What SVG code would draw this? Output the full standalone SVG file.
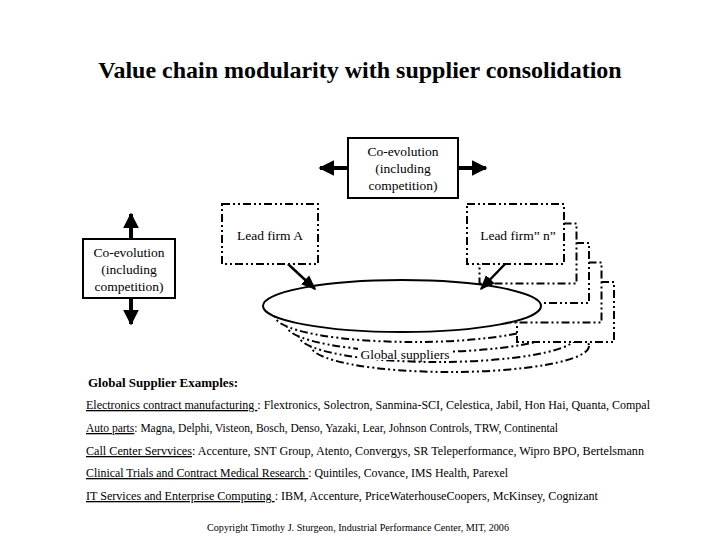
<svg xmlns="http://www.w3.org/2000/svg" width="720" height="540" viewBox="0 0 720 540" font-family="'Liberation Serif', 'Times New Roman', serif">
<style>
text{font-family:'Liberation Serif','Times New Roman',serif;fill:#000}
.b{font-size:13.5px}
.box{fill:#fff;stroke:#000;stroke-width:2}
.dd{fill:#fff;stroke:#000;stroke-width:2;stroke-dasharray:8 3 2 3 2 3}
.de{fill:#fff;stroke:#000;stroke-width:2;stroke-dasharray:8 3 2 3 2 3}
.l{font-size:13px}
.u{text-decoration:underline}
</style>
<defs>
<marker id="ah" viewBox="0 0 10 10" refX="9" refY="5" markerWidth="4" markerHeight="4" orient="auto"><path d="M0,0L10,5L0,10z"/></marker>
<marker id="as" viewBox="0 0 10 10" refX="9" refY="5" markerWidth="6" markerHeight="6" orient="auto"><path d="M0,1L10,5L0,9z"/></marker>
</defs>
<text x="360" y="78" font-size="24" font-weight="bold" text-anchor="middle">Value chain modularity with supplier consolidation</text>
<g id="connectors" stroke="#000">
<line x1="348" y1="168" x2="320" y2="168" stroke-width="4" marker-end="url(#ah)"/>
<line x1="458" y1="168" x2="486" y2="168" stroke-width="4" marker-end="url(#ah)"/>
<line x1="131" y1="239" x2="131" y2="214" stroke-width="4" marker-end="url(#ah)"/>
<line x1="131" y1="298" x2="131" y2="324" stroke-width="4" marker-end="url(#ah)"/>
</g>
<g id="suppliers-back">
<ellipse class="de" cx="450" cy="346" rx="139" ry="26"/>
<ellipse class="de" cx="438" cy="336" rx="139" ry="26"/>
<ellipse class="de" cx="426" cy="326" rx="139" ry="26"/>
<ellipse class="de" cx="414" cy="316" rx="139" ry="26"/>
</g>
<g id="leadn-stack">
<rect class="dd" x="517" y="282" width="97" height="60"/>
<rect class="dd" x="504.5" y="262.5" width="97" height="60"/>
<rect class="dd" x="492" y="243" width="97" height="60"/>
<rect class="dd" x="479.5" y="223.5" width="97" height="60"/>
</g>
<g id="coev-top"><rect class="box" x="348" y="138" width="110" height="60"/>
<text class="b" x="403" y="156" text-anchor="middle">Co-evolution</text>
<text class="b" x="403" y="173" text-anchor="middle">(including</text>
<text class="b" x="403" y="190" text-anchor="middle">competition)</text></g>
<g id="coev-left"><rect class="box" x="83" y="239" width="92" height="59"/>
<text class="b" x="129" y="257" text-anchor="middle">Co-evolution</text>
<text class="b" x="129" y="274" text-anchor="middle">(including</text>
<text class="b" x="129" y="291" text-anchor="middle">competition)</text></g>
<g id="leadA"><rect class="dd" x="222" y="204" width="96" height="60"/>
<text class="b" x="270" y="240" text-anchor="middle">Lead firm A</text></g>
<g id="leadN"><rect class="dd" x="467" y="204" width="97" height="60"/>
<text class="b" x="518" y="240" text-anchor="middle">Lead firm” n”</text></g>
<g id="suppliers"><ellipse cx="402" cy="306" rx="139" ry="26" fill="#fff" stroke="#000" stroke-width="2"/>
<rect x="358" y="344" width="94" height="16" fill="#fff"/>
<text class="b" x="405" y="359" text-anchor="middle">Global suppliers</text></g>
<g stroke="#000" stroke-width="2.5">
<line x1="288" y1="264" x2="315" y2="289" marker-end="url(#as)"/>
<line x1="505" y1="264" x2="481" y2="289" marker-end="url(#as)"/>
</g>
<g id="examples">
<text class="l" x="88" y="387" font-weight="bold">Global Supplier Examples:</text>
<text class="l" x="86" y="409" textLength="564" lengthAdjust="spacingAndGlyphs"><tspan class="u">Electronics contract manufacturing </tspan>: Flextronics, Solectron, Sanmina-SCI, Celestica, Jabil, Hon Hai, Quanta, Compal</text>
<text class="l" x="86" y="432" textLength="472" lengthAdjust="spacingAndGlyphs"><tspan class="u">Auto parts</tspan>: Magna, Delphi, Visteon, Bosch, Denso, Yazaki, Lear, Johnson Controls, TRW, Continental</text>
<text class="l" x="86" y="455" textLength="558" lengthAdjust="spacingAndGlyphs"><tspan class="u">Call Center Servvices</tspan>: Accenture, SNT Group, Atento, Convergys, SR Teleperformance, Wipro BPO, Bertelsmann</text>
<text class="l" x="86" y="477" textLength="422" lengthAdjust="spacingAndGlyphs"><tspan class="u">Clinical Trials and Contract Medical Research </tspan>: Quintiles, Covance, IMS Health, Parexel</text>
<text class="l" x="86" y="500" textLength="512" lengthAdjust="spacingAndGlyphs"><tspan class="u">IT Services and Enterprise Computing </tspan>: IBM, Accenture, PriceWaterhouseCoopers, McKinsey, Cognizant</text>
<text x="358" y="531" font-size="10" text-anchor="middle" textLength="302" lengthAdjust="spacingAndGlyphs">Copyright Timothy J.  Sturgeon, Industrial Performance Center, MIT, 2006</text>
</g>
</svg>
